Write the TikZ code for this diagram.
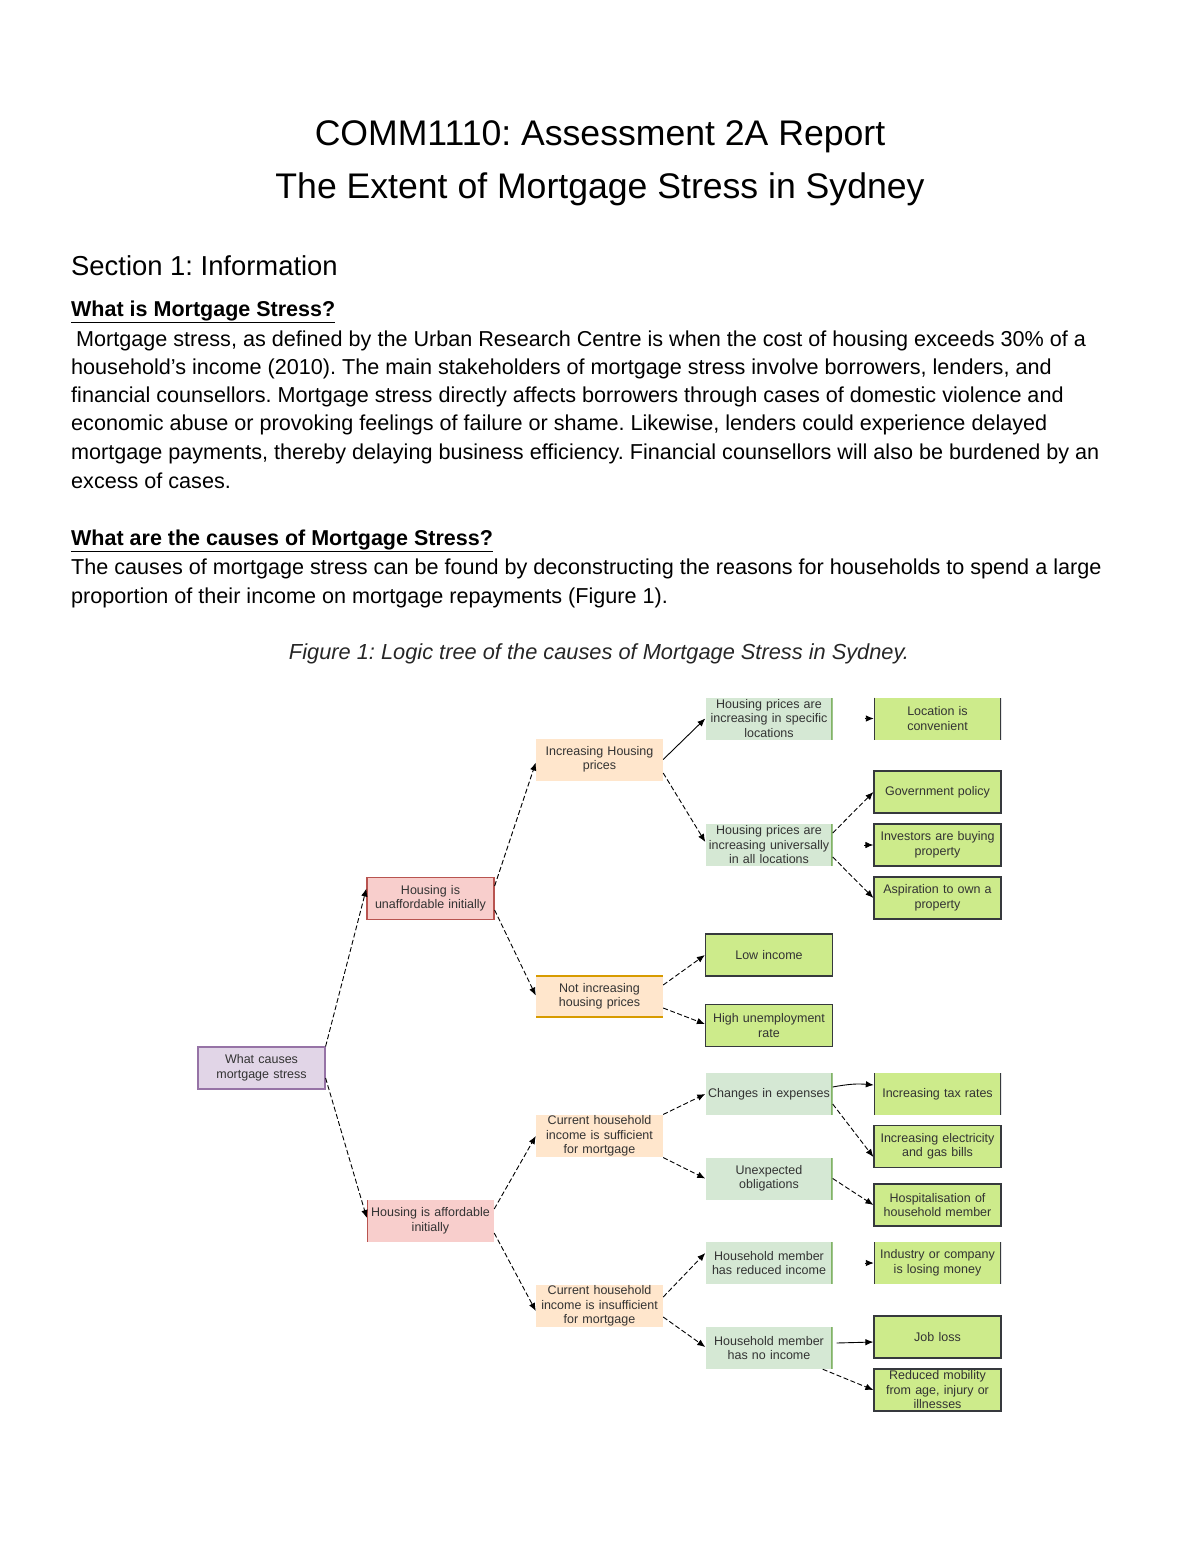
\documentclass[tikz,border=0pt]{standalone}
\usepackage{fontspec}
\setmainfont{Liberation Sans}
\usetikzlibrary{arrows.meta}
\definecolor{rootfill}{HTML}{E1D5E7}\definecolor{rootline}{HTML}{9673A6}
\definecolor{redfill}{HTML}{F8CECC}\definecolor{redline}{HTML}{B85450}
\definecolor{orfill}{HTML}{FFE6CC}\definecolor{orline}{HTML}{D79B00}
\definecolor{gnfill}{HTML}{D5E8D4}\definecolor{gnline}{HTML}{82B366}
\definecolor{limefill}{HTML}{CDEB8B}\definecolor{limeline}{HTML}{36393D}
\newcommand{\TreeTip}{Latex[length=8,width=6.5]}
\newcommand{\EdgeL}[1]{\draw[#1,line width=2.4](path picture bounding box.north west)--(path picture bounding box.south west);}
\newcommand{\EdgeR}[1]{\draw[#1,line width=2.4](path picture bounding box.north east)--(path picture bounding box.south east);}
\newcommand{\Uline}[1]{\underline{#1}}
\tikzset{
  doctext/.style={anchor=base west,inner sep=0,font=\fontsize{21.6}{25}\selectfont},
  headtext/.style={doctext,font=\bfseries\fontsize{21.5}{25}\selectfont},
  treebox/.style={minimum width=127,minimum height=42,inner sep=1,text width=125,align=center,
    font=\fontsize{12.5}{14.5}\selectfont,text=black!80},
  rootbox/.style={treebox,fill=rootfill,draw=rootline,line width=1.2},
  redbox/.style={treebox,fill=redfill,draw=redline,line width=1.2},
  redleft/.style={treebox,fill=redfill,path picture={\EdgeL{redline}}},
  orbox/.style={treebox,fill=orfill},
  orrule/.style={treebox,fill=orfill,path picture={\draw[orline,line width=2.4](path picture bounding box.north west)--(path picture bounding box.north east)(path picture bounding box.south west)--(path picture bounding box.south east);}},
  gnbox/.style={treebox,fill=gnfill,path picture={\EdgeR{gnline}}},
  limebox/.style={treebox,fill=limefill,draw=limeline,line width=1.2},
  limesides/.style={treebox,fill=limefill,path picture={\EdgeL{limeline}\EdgeR{limeline}}},
  link/.style={dashed,dash pattern=on 5pt off 2.5pt,-{\TreeTip},line width=0.9},
  plainlink/.style={-{\TreeTip},line width=0.9}
}
\begin{document}
\frenchspacing
\begin{tikzpicture}[x=1pt,y=-1pt]
\fill[white](0,0)rectangle(1200,1553);
\useasboundingbox(0,0)rectangle(1200,1553);
\node[anchor=base,inner sep=0,font=\fontsize{35.6}{40}\selectfont](ttl1)at(600,145){COMM1110: Assessment 2A Report};
\node[anchor=base,inner sep=0,font=\fontsize{35.6}{40}\selectfont](ttl2)at(600,198){The Extent of Mortgage Stress in Sydney};
\node[doctext,font=\fontsize{27.4}{30}\selectfont](sec)at(71,275){Section 1: Information};
\node[headtext](q1)at(71,316){\Uline{What is Mortgage Stress?}};
\node[doctext](p1)at(76,346){Mortgage stress, as defined by the Urban Research Centre is when the cost of housing exceeds 30\% of a};
\node[doctext](p2)at(71,374){household's income (2010). The main stakeholders of mortgage stress involve borrowers, lenders, and};
\node[doctext](p3)at(71,402){financial counsellors. Mortgage stress directly affects borrowers through cases of domestic violence and};
\node[doctext](p4)at(71,430){economic abuse or provoking feelings of failure or shame. Likewise, lenders could experience delayed};
\node[doctext](p5)at(71,459){mortgage payments, thereby delaying business efficiency. Financial counsellors will also be burdened by an};
\node[doctext](p6)at(71,488){excess of cases.};
\node[headtext](q2)at(71,545){\Uline{What are the causes of Mortgage Stress?}};
\node[doctext](p7)at(71,574){The causes of mortgage stress can be found by deconstructing the reasons for households to spend a large};
\node[doctext](p8)at(71,603){proportion of their income on mortgage repayments (Figure 1).};
\node[anchor=base,inner sep=0,font=\itshape\fontsize{21.8}{25}\selectfont,text=black!85](cap)at(599,659){Figure 1: Logic tree of the causes of Mortgage Stress in Sydney.};

\node[rootbox](root)at(261.5,1068){What causes\\mortgage stress};
\node[redbox](hu)at(430.5,898.5){Housing is\\unaffordable initially};
\node[redleft](ha)at(430.5,1221){Housing is affordable\\initially};
\node[orbox](inc)at(599.5,759.5){Increasing Housing\\prices};
\node[orrule](notinc)at(599.5,996.5){Not increasing\\housing prices};
\node[orbox](suff)at(599.5,1136){Current household\\income is sufficient\\for mortgage};
\node[orbox](insuff)at(599.5,1306){Current household\\income is insufficient\\for mortgage};
\node[gnbox](spec)at(769,718.5){Housing prices are\\increasing in specific\\locations};
\node[gnbox](univ)at(769,845){Housing prices are\\increasing universally\\in all locations};
\node[limebox](low)at(769,955){Low income};
\node[limebox](unemp)at(769,1025.5){High unemployment\\rate};
\node[gnbox](chg)at(769,1094){Changes in expenses};
\node[gnbox](unexp)at(769,1178.5){Unexpected\\obligations};
\node[gnbox](redu)at(769,1263){Household member\\has reduced income};
\node[gnbox](noinc)at(769,1348){Household member\\has no income};
\node[limesides](loc)at(937.5,718.5){Location is\\convenient};
\node[limebox](gov)at(937.5,792){Government policy};
\node[limebox](inv)at(937.5,845){Investors are buying\\property};
\node[limebox](asp)at(937.5,898){Aspiration to own a\\property};
\node[limesides](tax)at(937.5,1094){Increasing tax rates};
\node[limebox](elec)at(937.5,1146.5){Increasing electricity\\and gas bills};
\node[limebox](hosp)at(937.5,1205){Hospitalisation of\\household member};
\node[limesides](ind)at(937.5,1263){Industry or company\\is losing money};
\node[limebox](job)at(937.5,1337){Job loss};
\node[limebox](mob)at(937.5,1390){Reduced mobility\\from age, injury or\\illnesses};

\draw[link](root.north east)--([yshift=10]hu.west);
\draw[link]([yshift=-10]root.east)--([yshift=3]ha.west);
\draw[link]([yshift=12.5]hu.east)--([yshift=-3]inc.west);
\draw[link]([yshift=-11.5]hu.east)--([yshift=1]notinc.west);
\draw[link]([yshift=12]ha.east)--(suff.west);
\draw[link]([yshift=-12]ha.east)--([yshift=-5]insuff.west);
\draw[plainlink](inc.east)--(spec.west);
\draw[link]([yshift=-13.5]inc.east)--([yshift=3]univ.west);
\draw[link]([yshift=12]univ.east)--(gov.west);
\draw[link]([yshift=-12]univ.east)--(asp.west);
\draw[link]([yshift=11.5]notinc.east)--(low.west);
\draw[link]([yshift=-11.5]notinc.east)--([yshift=1.5]unemp.west);
\draw[link](suff.north east)--(chg.west);
\draw[link](suff.south east)--(unexp.west);
\draw[plainlink]([yshift=7]chg.east)to[bend left=8]([yshift=9]tax.west);
\draw[link]([yshift=-10]chg.east)--([yshift=-10.5]elec.west);
\draw[link](unexp.east)--(hosp.west);
\draw[link]([yshift=9]insuff.east)--([yshift=10]redu.west);
\draw[link]([yshift=-11]insuff.east)--([yshift=1]noinc.west);
\draw[plainlink]([xshift=4,yshift=5]noinc.east)--([yshift=-5]job.west);
\draw[link]([xshift=-10]noinc.south east)--(mob.west);
\draw[plainlink]([xshift=-9]loc.west)--(loc.west);
\draw[plainlink]([xshift=-9]inv.west)--(inv.west);
\draw[plainlink]([xshift=-9]ind.west)--(ind.west);
\end{tikzpicture}
\end{document}
